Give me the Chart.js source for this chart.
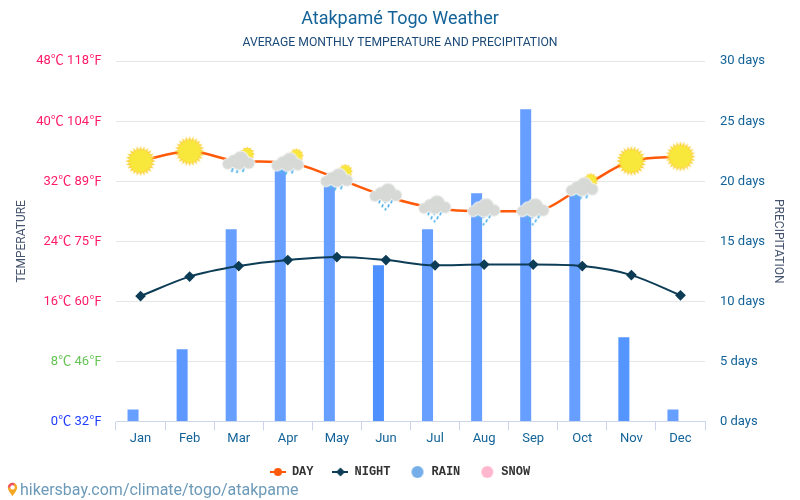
<!DOCTYPE html>
<html>
<head>
<meta charset="utf-8">
<title>Atakpamé Togo Weather</title>
<script src="https://cdn.jsdelivr.net/npm/chart.js@4"></script>
<style>
    html, body { margin: 0; padding: 0; background: #fff; }
    #wrap { position: relative; width: 800px; height: 500px; }
    #foot { position: absolute; left: 20px; top: 480px; font: 16px Roboto, sans-serif; color: #6c9ab8; white-space: nowrap; }
    #pin { position: absolute; left: 7px; top: 482px; }
</style>
</head>
<body>
<div id="wrap">
    <canvas id="weatherChart" width="800" height="500"></canvas>
    <svg id="pin" width="11" height="15" viewBox="0 0 13 17">
        <path d="M6.5 16.5 C4 12 1 9.5 1 6 A5.5 5.5 0 0 1 12 6 C12 9.5 9 12 6.5 16.5Z" fill="#f5a623"/>
        <path d="M1 6 A5.5 5.5 0 0 1 9 1.2 L6.5 6Z" fill="#ef4f6b"/>
        <circle cx="6.5" cy="6" r="2.6" fill="#fff"/>
    </svg>
    <div id="foot">hikersbay.com/climate/togo/atakpame</div>
</div>
<script>
const months = ['Jan', 'Feb', 'Mar', 'Apr', 'May', 'Jun', 'Jul', 'Aug', 'Sep', 'Oct', 'Nov', 'Dec'];
const dayTemps = [34.7, 36, 34.7, 34.5, 32.4, 30, 28.4, 28, 28, 31.2, 34.7, 35.3];
const nightTemps = [16.7, 19.3, 20.7, 21.5, 21.9, 21.5, 20.8, 20.9, 20.9, 20.7, 19.5, 16.8];
const rainDays = [1, 6, 16, 21, 20, 13, 16, 19, 26, 19, 7, 1];
const snowDays = [0, 0, 0, 0, 0, 0, 0, 0, 0, 0, 0, 0];
const weatherIcons = ['sun', 'sun', 'partly', 'partly', 'partly', 'rain', 'rain', 'rain', 'rain', 'partly', 'sun', 'sun'];
const tempTicks = { 48: '48℃ 118℉', 40: '40℃ 104℉', 32: '32℃ 89℉', 24: '24℃ 75℉', 16: '16℃ 60℉', 8: '8℃ 46℉', 0: '0℃ 32℉' };

const rainColors = ['#669fff', '#5c98ff', '#669fff', '#669fff', '#669fff', '#4d90fe', '#669fff', '#669fff', '#669fff', '#669fff', '#5595ff', '#669fff'];

function newIcon(w, h) {
    const c = document.createElement('canvas');
    c.width = w;
    c.height = h;
    return c;
}

function drawSun(ctx, x, y, r, rays) {
    ctx.fillStyle = '#fcd23c';
    ctx.beginPath();
    for (let i = 0; i < rays * 2; i++) {
        const a = i * Math.PI / rays;
        const d = i % 2 ? r * 1.02 : r * 1.38;
        ctx.lineTo(x + Math.cos(a) * d, y + Math.sin(a) * d);
    }
    ctx.closePath();
    ctx.fill();
    ctx.fillStyle = '#f8e83c';
    ctx.beginPath();
    ctx.arc(x, y, r, 0, Math.PI * 2);
    ctx.fill();
}

function drawCloud(ctx, x, y) {
    const puffs = [[-11, 3, 5], [-5, 0, 6], [2, -2, 7.5], [10, 2, 5.5], [0, 2, 6.5]];
    ctx.fillStyle = '#f2f3f1';
    puffs.forEach(p => { ctx.beginPath(); ctx.arc(x + p[0], y + p[1], p[2] + 1, 0, Math.PI * 2); ctx.fill(); });
    ctx.fillStyle = '#d6d9d5';
    puffs.forEach(p => { ctx.beginPath(); ctx.arc(x + p[0], y + p[1], p[2], 0, Math.PI * 2); ctx.fill(); });
}

function drawDrops(ctx, x, y, list) {
    ctx.strokeStyle = '#55b5ea';
    ctx.lineWidth = 1.8;
    list.forEach(d => {
        ctx.beginPath();
        ctx.moveTo(x + d[0] + 1, y + d[1]);
        ctx.lineTo(x + d[0], y + d[1] + d[2]);
        ctx.stroke();
    });
}

// day line point icons
function makeIcon(kind) {
    const c = newIcon(38, 38);
    const ctx = c.getContext('2d');
    if (kind === 'sun') {
        drawSun(ctx, 19, 19, 11, 24);
    } else if (kind === 'partly') {
        drawSun(ctx, 27.5, 12, 5.5, 12);
        drawDrops(ctx, 19, 26, [[-7, 0, 4], [4, 0, 4], [-2, 1, 4]]);
        drawCloud(ctx, 19, 19);
    } else {
        drawDrops(ctx, 19, 23, [[-7, 0, 3], [-1, 0, 3], [5, 0, 3], [-4, 4, 3], [2, 4, 3], [-1, 8, 2]]);
        drawCloud(ctx, 19, 16);
    }
    return c;
}

const iconCache = { sun: makeIcon('sun'), partly: makeIcon('partly'), rain: makeIcon('rain') };

function legendLine(color, diamond) {
    const c = newIcon(16, 12);
    const ctx = c.getContext('2d');
    ctx.strokeStyle = color;
    ctx.lineWidth = 2;
    ctx.beginPath();
    ctx.moveTo(0, 6);
    ctx.lineTo(16, 6);
    ctx.stroke();
    ctx.fillStyle = color;
    ctx.beginPath();
    if (diamond) {
        ctx.moveTo(8, 1.5); ctx.lineTo(12.5, 6); ctx.lineTo(8, 10.5); ctx.lineTo(3.5, 6);
        ctx.closePath();
    } else {
        ctx.arc(8, 6, 4, 0, Math.PI * 2);
    }
    ctx.fill();
    return c;
}

function legendDot(color) {
    const c = newIcon(16, 12);
    const ctx = c.getContext('2d');
    ctx.fillStyle = color;
    ctx.beginPath();
    ctx.arc(8, 6, 6, 0, Math.PI * 2);
    ctx.fill();
    return c;
}

const legendIcons = [legendLine('#ff5a0a', false), legendLine('#0d3d56', true), legendDot('#75aee8'), legendDot('#ffb7cd')];

const axisFont = { family: 'Roboto, "Noto Sans CJK SC"', size: 13 };

const weatherChart = new Chart(document.getElementById('weatherChart').getContext('2d'), {
    type: 'bar',
    data: {
        labels: months,
        datasets: [
            {
                type: 'line',
                label: 'DAY',
                data: dayTemps,
                yAxisID: 'yTemp',
                borderColor: '#ff5a0a',
                borderWidth: 2.5,
                cubicInterpolationMode: 'monotone',
                pointStyle: weatherIcons.map(k => iconCache[k]),
                pointRadius: 15,
                order: 0
            },
            {
                type: 'line',
                label: 'NIGHT',
                data: nightTemps,
                yAxisID: 'yTemp',
                borderColor: '#0d3d56',
                backgroundColor: '#0d3d56',
                borderWidth: 2,
                cubicInterpolationMode: 'monotone',
                pointStyle: 'rectRot',
                pointRadius: 4,
                order: 1
            },
            {
                label: 'RAIN',
                data: rainDays,
                yAxisID: 'yDays',
                backgroundColor: rainColors,
                categoryPercentage: 0.612,
                barPercentage: 0.733,
                order: 2
            },
            {
                label: 'SNOW',
                data: snowDays,
                yAxisID: 'yDays',
                backgroundColor: '#ffb7cd',
                categoryPercentage: 0.612,
                barPercentage: 0.733,
                order: 3
            }
        ]
    },
    options: {
        responsive: false,
        animation: false,
        layout: { padding: { top: 0, bottom: 12, left: 0, right: 0 } },
        plugins: {
            title: {
                display: true,
                text: 'Atakpamé Togo Weather',
                color: '#136399',
                font: { family: 'Roboto', size: 18, weight: 'normal' },
                padding: { top: 9, bottom: 2 }
            },
            subtitle: {
                display: true,
                text: 'AVERAGE MONTHLY TEMPERATURE AND PRECIPITATION',
                color: '#1b4a78',
                font: { family: 'Roboto', size: 12.2 },
                padding: { top: 3, bottom: 11 }
            },
            legend: {
                position: 'bottom',
                labels: {
                    usePointStyle: true,
                    pointStyleWidth: 16,
                    padding: 19,
                    color: '#333333',
                    font: { family: 'Liberation Mono', size: 12, weight: 'bold' },
                    generateLabels: chart => chart.data.datasets.map((d, i) => ({
                        text: d.label,
                        datasetIndex: i,
                        pointStyle: legendIcons[i],
                        fontColor: '#333333',
                        lineWidth: 0
                    }))
                }
            },
            tooltip: { enabled: false }
        },
        scales: {
            x: {
                offset: true,
                afterFit: s => { s.height -= 1; },
                grid: { offset: true, drawOnChartArea: false, color: '#ccd6eb', tickLength: 9 },
                border: { color: '#ccd6eb' },
                ticks: { color: '#136399', font: axisFont, padding: 1, maxRotation: 0 }
            },
            yTemp: {
                position: 'left',
                min: 0,
                max: 48,
                afterFit: s => { s.width = 116; },
                title: {
                    display: true,
                    text: 'TEMPERATURE',
                    color: '#46546e',
                    font: { family: 'Roboto', size: 12 },
                    padding: { top: 15, bottom: 0 }
                },
                grid: { color: '#e6e6e6', drawTicks: false },
                border: { display: false },
                ticks: {
                    stepSize: 8,
                    padding: 14,
                    font: axisFont,
                    callback: v => tempTicks[v],
                    color: c => c.tick.value === 0 ? '#1f3cff' : c.tick.value === 8 ? '#66c455' : '#ff1a66'
                }
            },
            yDays: {
                position: 'right',
                min: 0,
                max: 30,
                afterFit: s => { s.width = 95; },
                title: {
                    display: true,
                    text: 'PRECIPITATION',
                    color: '#46546e',
                    font: { family: 'Roboto', size: 12 },
                    padding: { top: 15, bottom: 0 }
                },
                grid: { drawOnChartArea: false, drawTicks: false },
                border: { display: false },
                ticks: {
                    stepSize: 5,
                    padding: 15,
                    color: '#136399',
                    font: axisFont,
                    callback: v => v + ' days'
                }
            }
        }
    }
});
</script>
</body>
</html>
